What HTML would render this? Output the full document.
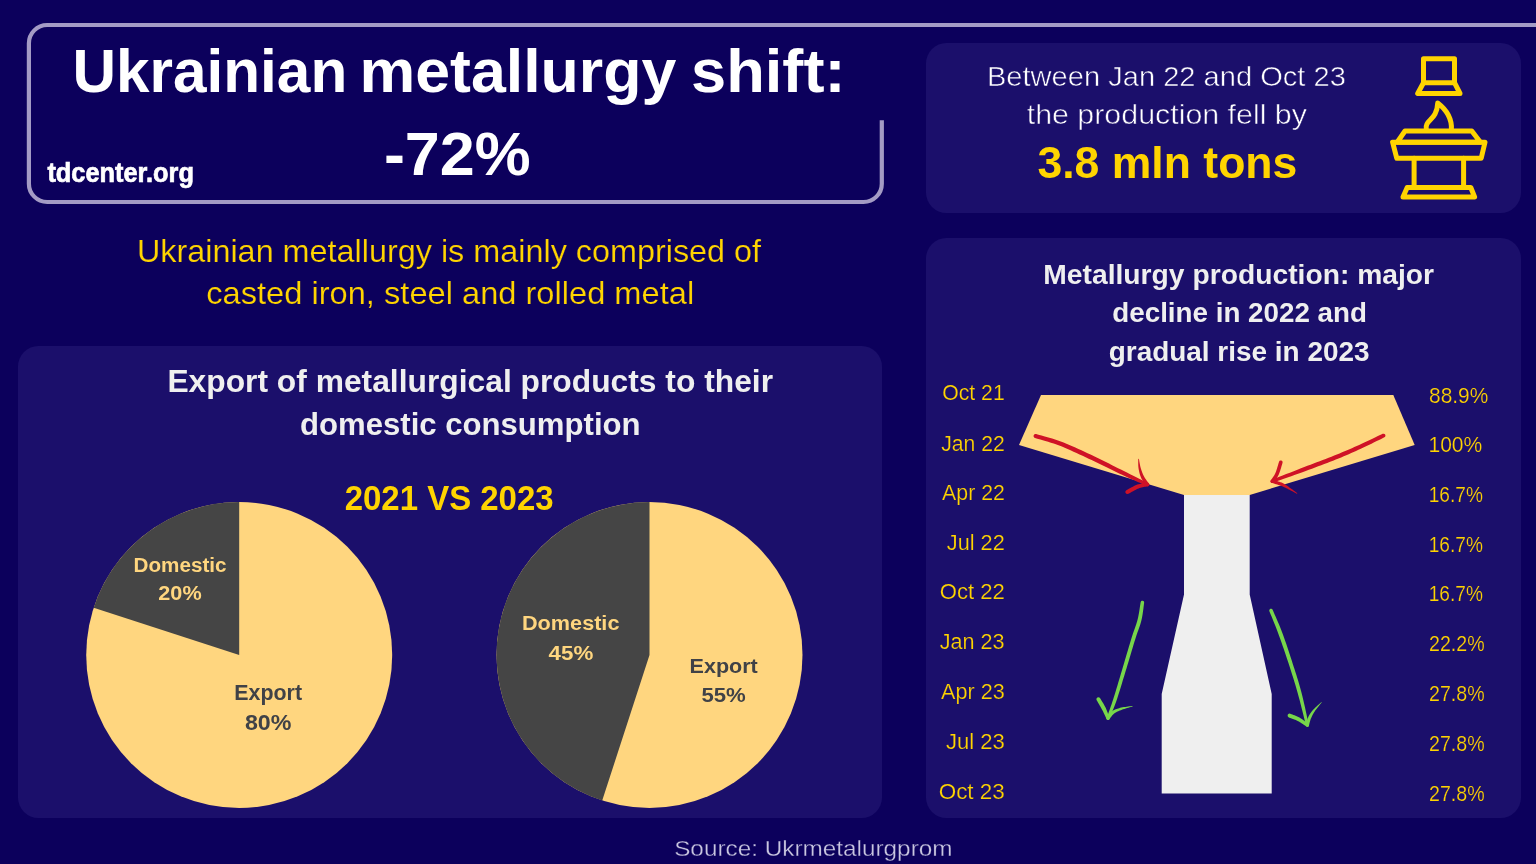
<!DOCTYPE html>
<html lang="en">
<head>
<meta charset="utf-8">
<title>Ukrainian metallurgy shift: -72%</title>
<style>
html,body{margin:0;padding:0}
body{width:1536px;height:864px;overflow:hidden;background:#0c005c;font-family:"Liberation Sans",Arial,sans-serif;position:relative}
h1,h2,h3,p,ul,li,figure,figcaption{margin:0;padding:0;font-size:inherit;font-weight:inherit;list-style:none}
.panel{position:absolute;background:#1b0f6b;border-radius:20.5px}
svg.art{position:absolute;left:0;top:0;width:1536px;height:864px;overflow:visible}
.t{position:absolute;left:0;top:0;display:block;white-space:nowrap;transform-origin:0 0;line-height:1;font-weight:400}
.h1{font-weight:700;color:#ffffff}
.brand{font-weight:700;color:#ffffff;-webkit-text-stroke:0.7px #ffffff}
.sub{color:#ffd400;-webkit-text-stroke:0.2px #0c005c}
.h2,.h3{font-weight:700;color:#efefef}
.vs,.big{font-weight:700;color:#ffd400}
.lead{color:#ffffff;-webkit-text-stroke:0.55px #1b0f6b}
.ax{color:#ffd400;-webkit-text-stroke:0.2px #1b0f6b}
.src{color:#c9c6e0;-webkit-text-stroke:0.3px #0c005c}
.pl{font-weight:700}
.on-dark{color:#ffd67f}
.on-light{color:#404247}
</style>
</head>
<body>
<header>
<svg class="art" viewBox="0 0 1536 864" aria-hidden="true"><path d="M1540 25 H47.2 A18.3 18.3 0 0 0 28.9 43.3 V183.7 A18.3 18.3 0 0 0 47.2 202 H863.5 A18.3 18.3 0 0 0 881.8 183.7 V120.3" fill="none" stroke="#a49bc5" stroke-width="4.2"/></svg>
<h1><span class="t h1 w1" style="font-size:60.43px;transform:translate(72.41px,40.64px) scaleX(0.9980)">Ukrainian</span> <span class="t h1 w2" style="font-size:60.43px;transform:translate(359.44px,40.64px) scaleX(1.0373)">metallurgy</span> <span class="t h1 w3" style="font-size:60.43px;transform:translate(691.05px,40.64px) scaleX(1.0459)">shift:</span> <span class="t h1 w4" style="font-size:60.72px;transform:translate(383.88px,123.60px) scaleX(1.0349)">-72%</span></h1>
<div class="t brand" style="font-size:27.25px;transform:translate(47.41px,158.69px) scaleX(0.9300)">tdcenter.org</div>
<p><span class="t sub" style="font-size:31.16px;transform:translate(136.90px,236.02px) scaleX(1.0389)">Ukrainian metallurgy is mainly comprised of</span> <span class="t sub" style="font-size:31.16px;transform:translate(206.27px,278.22px) scaleX(1.0472)">casted iron, steel and rolled metal</span></p>
</header>
<section>
<div class="panel" style="left:926px;top:43px;width:595px;height:170px"></div>
<p><span class="t lead" style="font-size:27.83px;transform:translate(986.97px,62.95px) scaleX(1.0450)">Between Jan 22 and Oct 23</span> <span class="t lead" style="font-size:27.83px;transform:translate(1026.72px,101.25px) scaleX(1.0912)">the production fell by</span> <strong class="t big" style="font-size:44.20px;transform:translate(1037.43px,141.28px) scaleX(1.0082)">3.8 mln tons</strong></p>
<svg class="art" viewBox="0 0 1536 864" aria-hidden="true"><g fill="none" stroke="#ffd400" stroke-width="5" stroke-linejoin="round" stroke-linecap="round"><rect x="1423.5" y="58.7" width="31" height="24"/><path d="M1423.5 82.7 L1417.7 93.5 H1460 L1454.5 82.7"/><path d="M1426.3 129.5 C1424.3 119.5 1437 121 1437.7 103 C1445.5 109 1452 118 1451.4 129.5"/><path d="M1405 131 H1471.8 L1480.4 142.2 H1397.2 Z"/><path d="M1392.6 142.2 H1485 L1481.2 158.3 H1396.8 Z"/><path d="M1414.1 158.3 V187.5 M1463.6 158.3 V187.5"/><path d="M1407.2 187.5 H1470.8 L1474.6 197 H1403 Z"/></g></svg>
</section>
<section>
<div class="panel" style="left:18px;top:346px;width:864px;height:471.5px"></div>
<h2><span class="t h2" style="font-size:31.59px;transform:translate(167.40px,366.26px) scaleX(1.0063)">Export of metallurgical products to their</span> <span class="t h2" style="font-size:31.59px;transform:translate(299.98px,409.36px) scaleX(0.9853)">domestic consumption</span></h2>
<div class="t vs" style="font-size:34.64px;transform:translate(344.70px,480.58px) scaleX(0.9517)">2021 VS 2023</div>
<svg class="art" viewBox="0 0 1536 864" aria-hidden="true"><circle cx="239.2" cy="655" r="153" fill="#ffd67f"/><path d="M239.2 655 L239.2 502 A153 153 0 0 0 93.69 607.72 Z" fill="#454545"/><circle cx="649.5" cy="655" r="153" fill="#ffd67f"/><path d="M649.5 655 L649.5 502 A153 153 0 0 0 602.22 800.51 Z" fill="#454545"/></svg>
<div><span class="t pl on-dark" style="font-size:20.00px;transform:translate(133.47px,554.97px) scaleX(1.0335)">Domestic</span> <span class="t pl on-dark" style="font-size:20.29px;transform:translate(158.32px,582.82px) scaleX(1.0668)">20%</span></div>
<div><span class="t pl on-light" style="font-size:21.30px;transform:translate(234.29px,682.87px) scaleX(1.0040)">Export</span> <span class="t pl on-light" style="font-size:21.30px;transform:translate(244.91px,712.72px) scaleX(1.0911)">80%</span></div>
<div><span class="t pl on-dark" style="font-size:20.72px;transform:translate(521.99px,612.66px) scaleX(1.0447)">Domestic</span> <span class="t pl on-dark" style="font-size:20.72px;transform:translate(548.57px,643.46px) scaleX(1.0774)">45%</span></div>
<div><span class="t pl on-light" style="font-size:20.72px;transform:translate(689.54px,656.21px) scaleX(1.0400)">Export</span> <span class="t pl on-light" style="font-size:20.72px;transform:translate(701.42px,684.66px) scaleX(1.0696)">55%</span></div>
</section>
<section>
<div class="panel" style="left:926px;top:238px;width:595px;height:579.5px"></div>
<h3><span class="t h3" style="font-size:27.97px;transform:translate(1043.32px,261.42px) scaleX(1.0099)">Metallurgy production: major</span> <span class="t h3" style="font-size:27.97px;transform:translate(1112.28px,298.72px) scaleX(0.9929)">decline in 2022 and</span> <span class="t h3" style="font-size:27.97px;transform:translate(1108.71px,337.92px) scaleX(0.9986)">gradual rise in 2023</span></h3>
<svg class="art" viewBox="0 0 1536 864" aria-hidden="true"><polygon points="1041,395 1393.3,395 1414.7,445 1249.7,495 1184,495 1019,445" fill="#ffd67f"/><polygon points="1184,495 1249.7,495 1249.7,594.5 1271.7,694 1271.7,793.5 1161.7,793.5 1161.7,694 1184,594.5" fill="#efefef"/>
<g fill="#cf1226"><path d="M1035.01 437.99 L1036.45 438.42 L1038.27 438.94 L1040.40 439.55 L1042.78 440.23 L1045.36 440.98 L1048.08 441.79 L1050.88 442.66 L1053.71 443.59 L1056.51 444.55 L1059.22 445.55 L1061.93 446.62 L1064.72 447.78 L1067.59 449.01 L1070.53 450.29 L1073.51 451.63 L1076.52 453.01 L1079.55 454.41 L1082.59 455.82 L1085.63 457.24 L1088.64 458.64 L1091.65 460.06 L1094.70 461.52 L1097.77 463.02 L1100.86 464.54 L1103.96 466.06 L1107.04 467.59 L1110.11 469.10 L1113.14 470.58 L1116.13 472.03 L1119.07 473.42 L1122.07 474.82 L1125.20 476.26 L1128.40 477.72 L1131.59 479.16 L1134.71 480.56 L1137.67 481.88 L1140.41 483.10 L1142.84 484.19 L1144.90 485.11 L1146.52 485.83 L1147.33 485.98 L1148.10 485.70 L1148.63 485.08 L1148.78 484.27 L1148.50 483.50 L1147.88 482.97 L1146.29 482.18 L1144.26 481.17 L1141.87 479.98 L1139.19 478.65 L1136.29 477.21 L1133.24 475.69 L1130.10 474.13 L1126.96 472.57 L1123.88 471.04 L1120.93 469.58 L1118.04 468.14 L1115.08 466.66 L1112.07 465.14 L1109.02 463.61 L1105.94 462.06 L1102.85 460.52 L1099.75 458.98 L1096.66 457.47 L1093.59 455.99 L1090.56 454.56 L1087.54 453.15 L1084.50 451.73 L1081.44 450.31 L1078.39 448.92 L1075.34 447.54 L1072.33 446.21 L1069.35 444.92 L1066.43 443.69 L1063.57 442.53 L1060.78 441.45 L1057.97 440.43 L1055.08 439.46 L1052.17 438.54 L1049.31 437.68 L1046.54 436.88 L1043.93 436.15 L1041.53 435.50 L1039.40 434.92 L1037.60 434.42 L1036.19 434.01 L1035.11 433.98 L1034.17 434.50 L1033.61 435.41 L1033.58 436.49 L1034.10 437.43Z"/><path d="M1149.00 483.62 L1148.67 483.16 L1148.24 482.58 L1147.73 481.91 L1147.18 481.18 L1146.60 480.39 L1146.00 479.56 L1145.41 478.71 L1144.86 477.88 L1144.35 477.07 L1143.92 476.30 L1143.53 475.53 L1143.16 474.72 L1142.79 473.89 L1142.44 473.03 L1142.11 472.16 L1141.79 471.28 L1141.49 470.40 L1141.20 469.51 L1140.93 468.63 L1140.67 467.77 L1140.43 466.89 L1140.21 465.95 L1140.00 464.96 L1139.80 463.96 L1139.62 462.97 L1139.45 462.03 L1139.30 461.14 L1139.17 460.36 L1139.06 459.69 L1138.96 459.16 L1138.90 458.99 L1138.75 458.87 L1138.56 458.84 L1138.39 458.90 L1138.27 459.05 L1138.24 459.24 L1138.24 459.76 L1138.24 460.43 L1138.23 461.23 L1138.22 462.13 L1138.22 463.10 L1138.23 464.12 L1138.26 465.17 L1138.32 466.22 L1138.40 467.25 L1138.53 468.23 L1138.68 469.16 L1138.84 470.10 L1139.03 471.06 L1139.24 472.02 L1139.48 472.99 L1139.74 473.95 L1140.02 474.90 L1140.34 475.85 L1140.69 476.78 L1141.08 477.70 L1141.53 478.63 L1142.07 479.59 L1142.65 480.53 L1143.25 481.45 L1143.87 482.34 L1144.46 483.17 L1145.02 483.93 L1145.51 484.60 L1145.91 485.15 L1146.20 485.58 L1146.88 486.15 L1147.75 486.30 L1148.58 486.00 L1149.15 485.32 L1149.30 484.45Z"/><path d="M1147.31 482.92 L1146.77 482.99 L1146.07 483.06 L1145.21 483.15 L1144.24 483.25 L1143.17 483.37 L1142.04 483.53 L1140.86 483.72 L1139.66 483.95 L1138.47 484.25 L1137.31 484.61 L1136.13 485.06 L1134.90 485.61 L1133.63 486.23 L1132.36 486.89 L1131.11 487.56 L1129.91 488.22 L1128.81 488.84 L1127.84 489.39 L1127.03 489.84 L1126.41 490.18 L1125.63 490.91 L1125.33 491.94 L1125.58 492.99 L1126.31 493.77 L1127.34 494.07 L1128.39 493.82 L1129.04 493.47 L1129.88 493.00 L1130.85 492.44 L1131.94 491.82 L1133.09 491.18 L1134.29 490.52 L1135.49 489.89 L1136.65 489.30 L1137.73 488.79 L1138.69 488.39 L1139.62 488.06 L1140.61 487.76 L1141.65 487.49 L1142.71 487.25 L1143.75 487.04 L1144.76 486.85 L1145.70 486.69 L1146.55 486.54 L1147.30 486.40 L1147.89 486.28 L1148.69 485.91 L1149.20 485.19 L1149.28 484.31 L1148.91 483.51 L1148.19 483.00Z"/><path d="M1382.66 433.84 L1381.26 434.50 L1379.47 435.36 L1377.36 436.37 L1375.00 437.50 L1372.44 438.71 L1369.76 439.99 L1367.03 441.28 L1364.30 442.55 L1361.65 443.77 L1359.14 444.91 L1356.73 445.99 L1354.32 447.07 L1351.92 448.13 L1349.50 449.19 L1347.06 450.25 L1344.60 451.31 L1342.09 452.37 L1339.52 453.44 L1336.90 454.52 L1334.20 455.62 L1331.43 456.73 L1328.59 457.84 L1325.68 458.95 L1322.73 460.08 L1319.72 461.21 L1316.68 462.35 L1313.61 463.51 L1310.51 464.68 L1307.39 465.86 L1304.27 467.06 L1300.98 468.33 L1297.42 469.72 L1293.70 471.17 L1289.92 472.64 L1286.19 474.10 L1282.60 475.51 L1279.27 476.81 L1276.29 477.97 L1273.79 478.96 L1271.84 479.71 L1271.18 480.19 L1270.84 480.94 L1270.91 481.76 L1271.39 482.42 L1272.14 482.76 L1272.96 482.69 L1274.92 481.99 L1277.46 481.08 L1280.46 480.01 L1283.84 478.81 L1287.46 477.52 L1291.24 476.17 L1295.07 474.81 L1298.83 473.45 L1302.42 472.15 L1305.73 470.94 L1308.86 469.79 L1311.99 468.64 L1315.09 467.50 L1318.17 466.35 L1321.23 465.21 L1324.24 464.08 L1327.21 462.95 L1330.14 461.82 L1333.00 460.70 L1335.80 459.58 L1338.52 458.47 L1341.16 457.38 L1343.74 456.29 L1346.27 455.21 L1348.75 454.13 L1351.20 453.05 L1353.62 451.97 L1356.03 450.89 L1358.44 449.79 L1360.86 448.69 L1363.38 447.52 L1366.04 446.26 L1368.77 444.96 L1371.51 443.64 L1374.18 442.34 L1376.73 441.09 L1379.09 439.93 L1381.19 438.90 L1382.96 438.03 L1384.34 437.36 L1385.11 436.70 L1385.45 435.75 L1385.26 434.76 L1384.60 433.99 L1383.65 433.65Z"/><path d="M1273.60 482.28 L1273.88 481.89 L1274.25 481.42 L1274.70 480.84 L1275.23 480.17 L1275.80 479.42 L1276.39 478.60 L1277.00 477.72 L1277.59 476.78 L1278.15 475.79 L1278.67 474.75 L1279.15 473.62 L1279.62 472.35 L1280.08 470.99 L1280.53 469.59 L1280.96 468.17 L1281.36 466.80 L1281.73 465.52 L1282.06 464.39 L1282.33 463.45 L1282.55 462.74 L1282.58 461.79 L1282.14 460.95 L1281.34 460.45 L1280.39 460.42 L1279.55 460.86 L1279.05 461.66 L1278.82 462.40 L1278.54 463.37 L1278.21 464.50 L1277.84 465.77 L1277.44 467.11 L1277.02 468.49 L1276.59 469.84 L1276.15 471.13 L1275.73 472.28 L1275.33 473.25 L1274.92 474.10 L1274.46 474.95 L1273.97 475.78 L1273.45 476.59 L1272.93 477.35 L1272.42 478.07 L1271.93 478.74 L1271.49 479.34 L1271.10 479.88 L1270.80 480.32 L1270.50 481.15 L1270.65 482.02 L1271.22 482.70 L1272.05 483.00 L1272.92 482.85Z"/><path d="M1271.69 482.93 L1272.30 483.11 L1273.08 483.34 L1274.00 483.61 L1275.02 483.91 L1276.11 484.23 L1277.23 484.57 L1278.36 484.92 L1279.45 485.27 L1280.46 485.62 L1281.37 485.96 L1282.22 486.29 L1283.05 486.65 L1283.88 487.02 L1284.69 487.41 L1285.51 487.81 L1286.31 488.21 L1287.11 488.62 L1287.91 489.03 L1288.71 489.44 L1289.50 489.84 L1290.30 490.24 L1291.14 490.67 L1291.99 491.11 L1292.84 491.55 L1293.68 491.99 L1294.47 492.41 L1295.20 492.79 L1295.85 493.14 L1296.40 493.43 L1296.84 493.66 L1296.99 493.70 L1297.14 493.67 L1297.26 493.56 L1297.30 493.41 L1297.27 493.26 L1297.16 493.14 L1296.77 492.85 L1296.28 492.47 L1295.69 492.02 L1295.04 491.52 L1294.32 490.97 L1293.57 490.40 L1292.80 489.82 L1292.01 489.25 L1291.24 488.69 L1290.50 488.16 L1289.79 487.66 L1289.07 487.14 L1288.35 486.61 L1287.60 486.08 L1286.84 485.54 L1286.06 485.01 L1285.25 484.49 L1284.41 483.99 L1283.54 483.50 L1282.63 483.04 L1281.63 482.60 L1280.55 482.18 L1279.41 481.77 L1278.25 481.38 L1277.09 481.01 L1275.99 480.67 L1274.96 480.36 L1274.04 480.09 L1273.29 479.86 L1272.71 479.67 L1271.83 479.63 L1271.04 480.04 L1270.57 480.79 L1270.53 481.67 L1270.94 482.46Z"/></g>
<g fill="#77d64a"><path d="M1140.65 602.13 L1140.48 603.19 L1140.28 604.53 L1140.04 606.11 L1139.78 607.87 L1139.49 609.77 L1139.17 611.75 L1138.82 613.77 L1138.44 615.78 L1138.04 617.71 L1137.61 619.53 L1137.15 621.23 L1136.67 622.86 L1136.16 624.46 L1135.61 626.06 L1135.03 627.72 L1134.41 629.46 L1133.75 631.33 L1133.05 633.35 L1132.32 635.57 L1131.54 638.02 L1130.71 640.73 L1129.82 643.69 L1128.88 646.86 L1127.89 650.17 L1126.88 653.60 L1125.86 657.07 L1124.83 660.54 L1123.82 663.97 L1122.84 667.29 L1121.89 670.46 L1120.97 673.55 L1120.04 676.67 L1119.12 679.78 L1118.20 682.87 L1117.30 685.90 L1116.41 688.87 L1115.55 691.74 L1114.71 694.49 L1113.90 697.10 L1113.12 699.54 L1112.36 701.87 L1111.59 704.15 L1110.83 706.35 L1110.08 708.46 L1109.36 710.45 L1108.69 712.29 L1108.07 713.97 L1107.53 715.46 L1107.05 716.75 L1106.68 717.79 L1106.60 718.52 L1106.90 719.19 L1107.49 719.62 L1108.22 719.70 L1108.89 719.40 L1109.32 718.81 L1109.74 717.79 L1110.26 716.54 L1110.87 715.07 L1111.57 713.42 L1112.32 711.59 L1113.13 709.62 L1113.96 707.51 L1114.80 705.31 L1115.65 703.01 L1116.48 700.66 L1117.31 698.20 L1118.16 695.57 L1119.03 692.81 L1119.93 689.94 L1120.84 686.97 L1121.76 683.93 L1122.69 680.85 L1123.63 677.74 L1124.57 674.63 L1125.51 671.54 L1126.47 668.38 L1127.47 665.05 L1128.50 661.63 L1129.53 658.16 L1130.57 654.69 L1131.59 651.28 L1132.58 647.96 L1133.53 644.81 L1134.43 641.86 L1135.26 639.18 L1136.02 636.78 L1136.75 634.61 L1137.44 632.62 L1138.10 630.77 L1138.72 629.03 L1139.32 627.35 L1139.88 625.69 L1140.42 624.01 L1140.92 622.28 L1141.39 620.47 L1141.83 618.53 L1142.22 616.49 L1142.57 614.41 L1142.89 612.33 L1143.17 610.31 L1143.42 608.38 L1143.64 606.60 L1143.84 605.02 L1144.00 603.70 L1144.15 602.67 L1144.05 601.75 L1143.50 601.02 L1142.67 600.65 L1141.75 600.75 L1141.02 601.30Z"/><path d="M1109.42 717.92 L1109.22 717.35 L1108.97 716.62 L1108.68 715.75 L1108.35 714.77 L1107.99 713.70 L1107.60 712.58 L1107.18 711.43 L1106.73 710.29 L1106.27 709.17 L1105.80 708.11 L1105.27 707.04 L1104.68 705.92 L1104.04 704.77 L1103.37 703.61 L1102.71 702.48 L1102.06 701.39 L1101.46 700.40 L1100.92 699.51 L1100.47 698.77 L1100.13 698.19 L1099.40 697.46 L1098.39 697.19 L1097.39 697.47 L1096.66 698.20 L1096.39 699.21 L1096.67 700.21 L1097.01 700.80 L1097.46 701.57 L1097.98 702.46 L1098.57 703.46 L1099.19 704.54 L1099.84 705.65 L1100.49 706.78 L1101.11 707.88 L1101.69 708.93 L1102.20 709.89 L1102.69 710.84 L1103.20 711.86 L1103.71 712.91 L1104.22 713.98 L1104.71 715.03 L1105.17 716.03 L1105.60 716.97 L1105.99 717.80 L1106.32 718.52 L1106.58 719.08 L1107.06 719.71 L1107.79 720.02 L1108.58 719.92 L1109.21 719.44 L1109.52 718.71Z"/><path d="M1109.21 719.44 L1109.52 719.05 L1109.89 718.54 L1110.31 717.96 L1110.77 717.32 L1111.27 716.66 L1111.80 715.98 L1112.34 715.32 L1112.89 714.71 L1113.42 714.17 L1113.95 713.71 L1114.49 713.30 L1115.05 712.90 L1115.64 712.53 L1116.25 712.18 L1116.90 711.84 L1117.59 711.50 L1118.32 711.17 L1119.11 710.83 L1119.96 710.48 L1120.85 710.13 L1121.87 709.75 L1123.04 709.34 L1124.34 708.92 L1125.70 708.50 L1127.07 708.08 L1128.41 707.68 L1129.67 707.31 L1130.80 706.98 L1131.75 706.71 L1132.46 706.49 L1132.60 706.42 L1132.68 706.29 L1132.69 706.14 L1132.62 706.00 L1132.49 705.92 L1132.34 705.91 L1131.60 706.02 L1130.62 706.16 L1129.46 706.31 L1128.16 706.49 L1126.76 706.68 L1125.33 706.89 L1123.91 707.12 L1122.53 707.36 L1121.26 707.61 L1120.15 707.87 L1119.16 708.14 L1118.25 708.40 L1117.37 708.67 L1116.54 708.96 L1115.74 709.26 L1114.96 709.59 L1114.21 709.96 L1113.48 710.36 L1112.77 710.80 L1112.05 711.29 L1111.33 711.88 L1110.63 712.56 L1109.98 713.29 L1109.36 714.04 L1108.79 714.78 L1108.27 715.50 L1107.80 716.16 L1107.39 716.75 L1107.06 717.21 L1106.79 717.56 L1106.48 718.29 L1106.58 719.08 L1107.06 719.71 L1107.79 720.02 L1108.58 719.92Z"/><path d="M1269.37 611.18 L1269.90 612.51 L1270.58 614.17 L1271.38 616.11 L1272.28 618.28 L1273.25 620.66 L1274.27 623.18 L1275.32 625.81 L1276.38 628.51 L1277.42 631.22 L1278.42 633.90 L1279.42 636.64 L1280.45 639.54 L1281.51 642.56 L1282.60 645.66 L1283.69 648.83 L1284.78 652.04 L1285.86 655.24 L1286.92 658.43 L1287.95 661.55 L1288.95 664.60 L1289.91 667.57 L1290.85 670.49 L1291.78 673.38 L1292.68 676.25 L1293.57 679.11 L1294.45 681.97 L1295.32 684.85 L1296.18 687.75 L1297.03 690.70 L1297.88 693.69 L1298.75 696.88 L1299.67 700.34 L1300.60 703.96 L1301.54 707.65 L1302.45 711.30 L1303.32 714.80 L1304.12 718.06 L1304.84 720.97 L1305.45 723.42 L1305.92 725.32 L1306.27 725.97 L1306.89 726.36 L1307.62 726.38 L1308.27 726.03 L1308.66 725.41 L1308.68 724.68 L1308.26 722.77 L1307.74 720.30 L1307.12 717.37 L1306.42 714.09 L1305.66 710.55 L1304.86 706.87 L1304.03 703.14 L1303.18 699.47 L1302.34 695.96 L1301.52 692.71 L1300.71 689.67 L1299.88 686.69 L1299.03 683.75 L1298.17 680.85 L1297.29 677.96 L1296.39 675.09 L1295.48 672.21 L1294.55 669.31 L1293.61 666.38 L1292.65 663.40 L1291.67 660.34 L1290.65 657.20 L1289.60 654.00 L1288.54 650.78 L1287.46 647.55 L1286.39 644.36 L1285.31 641.23 L1284.25 638.19 L1283.20 635.28 L1282.18 632.50 L1281.14 629.78 L1280.05 627.05 L1278.93 624.35 L1277.82 621.71 L1276.74 619.19 L1275.71 616.83 L1274.75 614.67 L1273.91 612.75 L1273.19 611.12 L1272.63 609.82 L1272.07 609.09 L1271.23 608.74 L1270.32 608.87 L1269.59 609.43 L1269.24 610.27Z"/><path d="M1308.29 724.05 L1307.82 723.69 L1307.22 723.21 L1306.50 722.62 L1305.68 721.97 L1304.79 721.26 L1303.84 720.53 L1302.86 719.80 L1301.87 719.10 L1300.88 718.44 L1299.90 717.84 L1298.90 717.30 L1297.83 716.78 L1296.72 716.28 L1295.59 715.80 L1294.49 715.35 L1293.43 714.94 L1292.46 714.56 L1291.60 714.23 L1290.88 713.96 L1290.34 713.74 L1289.31 713.62 L1288.35 714.03 L1287.74 714.86 L1287.62 715.89 L1288.03 716.85 L1288.86 717.46 L1289.44 717.69 L1290.19 717.97 L1291.06 718.28 L1292.03 718.64 L1293.06 719.02 L1294.13 719.43 L1295.20 719.86 L1296.24 720.29 L1297.22 720.73 L1298.10 721.16 L1298.96 721.62 L1299.89 722.17 L1300.85 722.76 L1301.83 723.39 L1302.79 724.02 L1303.71 724.64 L1304.56 725.23 L1305.33 725.75 L1305.99 726.20 L1306.51 726.55 L1307.25 726.83 L1308.04 726.70 L1308.65 726.19 L1308.93 725.45 L1308.80 724.66Z"/><path d="M1308.88 725.69 L1309.00 725.24 L1309.15 724.66 L1309.31 724.01 L1309.49 723.28 L1309.68 722.50 L1309.90 721.70 L1310.13 720.88 L1310.38 720.09 L1310.63 719.33 L1310.91 718.61 L1311.20 717.91 L1311.52 717.18 L1311.85 716.46 L1312.20 715.73 L1312.58 714.99 L1312.97 714.24 L1313.40 713.48 L1313.85 712.72 L1314.33 711.94 L1314.84 711.15 L1315.42 710.31 L1316.10 709.39 L1316.86 708.42 L1317.65 707.42 L1318.45 706.43 L1319.24 705.47 L1319.98 704.58 L1320.64 703.79 L1321.19 703.12 L1321.62 702.60 L1321.69 702.47 L1321.68 702.31 L1321.60 702.18 L1321.47 702.11 L1321.31 702.12 L1321.18 702.20 L1320.70 702.65 L1320.06 703.23 L1319.29 703.92 L1318.43 704.70 L1317.51 705.54 L1316.56 706.41 L1315.62 707.30 L1314.72 708.19 L1313.89 709.05 L1313.16 709.85 L1312.51 710.61 L1311.90 711.37 L1311.33 712.12 L1310.78 712.86 L1310.26 713.61 L1309.77 714.36 L1309.31 715.11 L1308.88 715.86 L1308.48 716.62 L1308.09 717.39 L1307.73 718.22 L1307.41 719.09 L1307.12 719.99 L1306.87 720.87 L1306.65 721.73 L1306.46 722.55 L1306.29 723.30 L1306.15 723.96 L1306.02 724.49 L1305.92 724.91 L1305.92 725.70 L1306.32 726.39 L1307.01 726.78 L1307.80 726.78 L1308.49 726.38Z"/></g></svg>
<ul>
<li><span class="t ax" style="font-size:21.16px;transform:translate(942.25px,382.19px) scaleX(1.0020)">Oct 21</span> <span class="t ax" style="font-size:21.45px;transform:translate(1429.11px,385.74px) scaleX(0.9732)">88.9%</span></li>
<li><span class="t ax" style="font-size:21.16px;transform:translate(941.20px,432.69px) scaleX(1.0009)">Jan 22</span> <span class="t ax" style="font-size:21.45px;transform:translate(1428.42px,435.04px) scaleX(0.9825)">100%</span></li>
<li><span class="t ax" style="font-size:21.16px;transform:translate(942.10px,482.09px) scaleX(1.0058)">Apr 22</span> <span class="t ax" style="font-size:21.45px;transform:translate(1428.73px,484.84px) scaleX(0.8911)">16.7%</span></li>
<li><span class="t ax" style="font-size:21.16px;transform:translate(946.79px,532.09px) scaleX(1.0267)">Jul 22</span> <span class="t ax" style="font-size:21.45px;transform:translate(1428.73px,534.54px) scaleX(0.8911)">16.7%</span></li>
<li><span class="t ax" style="font-size:21.16px;transform:translate(939.74px,581.49px) scaleX(1.0451)">Oct 22</span> <span class="t ax" style="font-size:21.45px;transform:translate(1428.73px,584.14px) scaleX(0.8911)">16.7%</span></li>
<li><span class="t ax" style="font-size:21.16px;transform:translate(939.80px,631.29px) scaleX(1.0203)">Jan 23</span> <span class="t ax" style="font-size:21.45px;transform:translate(1429.05px,633.84px) scaleX(0.9147)">22.2%</span></li>
<li><span class="t ax" style="font-size:21.16px;transform:translate(941.09px,681.09px) scaleX(1.0207)">Apr 23</span> <span class="t ax" style="font-size:21.45px;transform:translate(1429.05px,683.84px) scaleX(0.9147)">27.8%</span></li>
<li><span class="t ax" style="font-size:21.16px;transform:translate(945.90px,731.09px) scaleX(1.0431)">Jul 23</span> <span class="t ax" style="font-size:21.45px;transform:translate(1429.05px,733.84px) scaleX(0.9147)">27.8%</span></li>
<li><span class="t ax" style="font-size:21.16px;transform:translate(938.69px,781.09px) scaleX(1.0605)">Oct 23</span> <span class="t ax" style="font-size:21.45px;transform:translate(1429.05px,784.44px) scaleX(0.9147)">27.8%</span></li>
</ul>
</section>
<footer><div class="t src" style="font-size:22.61px;transform:translate(674.15px,837.56px) scaleX(1.0754)">Source: Ukrmetalurgprom</div></footer>
</body>
</html>
